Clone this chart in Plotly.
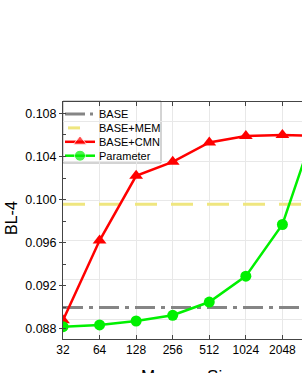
import plotly.graph_objects as go
import math

memory_sizes = [32, 64, 128, 256, 512, 1024, 2048, 4096]
tick_labels = ["32", "64", "128", "256", "512", "1024", "2048"]
base_vals = [0.0900] * 8
base_mem_vals = [0.09957] * 8
base_cmn_vals = [0.0888, 0.0962, 0.1022, 0.1035, 0.1053, 0.1059, 0.1060, 0.1059]
param_vals = [0.08821, 0.08837, 0.08874, 0.08927, 0.0905, 0.0929, 0.09769, 0.1077]
y_ticks = [0.088, 0.092, 0.096, 0.100, 0.104, 0.108]
y_tick_labels = ["0.088", "0.092", "0.096", "0.100", "0.104", "0.108"]
series_names = ["BASE", "BASE+MEM", "BASE+CMN", "Parameter"]

FONT = "Liberation Sans, Arial, sans-serif"
OFF = 0                      # page body margin removed by post_script
W, H = 302 - OFF, 373 - OFF
ML, MR, MT, MB = 63 - OFF, 0, 102 - OFF, 34
PW, PH = W - ML - MR, H - MT - MB

def px_x(px):                # screen pixel -> paper x
    return (px - OFF - ML) / PW

def px_y(py):                # screen pixel -> paper y
    return (H - MB - (py - OFF)) / PH

styles = {
    "BASE": dict(line=dict(color="#858585", width=3, dash="20px,6px,4px,6px"), mode="lines"),
    "BASE+MEM": dict(line=dict(color="#efe67f", width=3, dash="22px,14px"), mode="lines"),
    "BASE+CMN": dict(line=dict(color="#ff0000", width=2.5), mode="lines+markers",
                     marker=dict(symbol="triangle-up", size=12, color="#ff0000")),
    "Parameter": dict(line=dict(color="#00f000", width=2.5), mode="lines+markers",
                      marker=dict(symbol="circle", size=11, color="#00f000")),
}
values = {"BASE": base_vals, "BASE+MEM": base_mem_vals,
          "BASE+CMN": base_cmn_vals, "Parameter": param_vals}

fig = go.Figure()
for name in series_names:
    st = styles[name]
    fig.add_trace(go.Scatter(x=memory_sizes, y=values[name], name=name, showlegend=False,
                             mode=st["mode"], line=st["line"], marker=st.get("marker")))

# helper trace so the offset horizontal grid axis is drawn
fig.add_trace(go.Scatter(x=[None], y=[None], xaxis="x", yaxis="y2", showlegend=False, hoverinfo="skip"))

# compact legend (box, samples, texts) laid out in pixel units
LEG_X0, LEG_X1, LEG_Y0, LEG_Y1 = 63, 161, 101, 163
ROW0, ROW_STEP = 114, 13.9
SAMPLE_X0, SAMPLE_X1, TEXT_X = 65, 95, 96.5
shapes = [dict(type="rect", xref="paper", yref="paper", layer="between",
               x0=px_x(LEG_X0), x1=px_x(LEG_X1), y0=px_y(LEG_Y1), y1=px_y(LEG_Y0),
               fillcolor="white", line=dict(color="#a8a8a8", width=1))]
annotations = []
for i, name in enumerate(series_names):
    st = styles[name]
    ry = px_y(ROW0 + ROW_STEP * i)
    if name == "BASE+MEM":
        xs = [px_x(68), px_x(74), px_x(80)]
        line = dict(color=st["line"]["color"], width=3)
    elif name == "BASE":
        xs = [px_x(SAMPLE_X0), px_x(80), px_x(SAMPLE_X1)]
        line = dict(color=st["line"]["color"], width=3, dash="20px,5px,3px,10px")
    else:
        xs = [px_x(SAMPLE_X0), px_x(80), px_x(SAMPLE_X1)]
        line = st["line"]
    marker = None
    if "marker" in st:
        marker = dict(symbol=st["marker"]["symbol"], color=st["marker"]["color"],
                      size=[0, st["marker"]["size"], 0])
    fig.add_trace(go.Scatter(x=xs, y=[ry] * 3, xaxis="x2", yaxis="y3", mode=st["mode"],
                             line=line, marker=marker, showlegend=False, hoverinfo="skip",
                             cliponaxis=False))
    annotations.append(dict(text=name, xref="paper", yref="paper", x=px_x(TEXT_X), y=ry,
                            xanchor="left", yanchor="middle", showarrow=False,
                            font=dict(size=11, family=FONT, color="black")))

annotations += [
    dict(text="Memory Size", xref="paper", yref="paper", x=px_x(190), y=px_y(365),
         xanchor="center", yanchor="top", showarrow=False, font=dict(size=17, family=FONT)),
    dict(text="BL-4", xref="paper", yref="paper", x=px_x(11), y=px_y(218),
         xanchor="center", yanchor="middle", showarrow=False, textangle=-90,
         font=dict(size=16, family=FONT)),
]

lo = math.log10(32)
octave = math.log10(2)
fig.update_layout(
    width=W, height=H,
    margin=dict(l=ML, r=MR, t=MT, b=MB, autoexpand=False),
    paper_bgcolor="white", plot_bgcolor="white",
    font=dict(family=FONT, color="black"),
    showlegend=False,
    xaxis=dict(type="log", range=[lo, lo + (PW / 36.57) * octave], automargin=False,
               tickvals=memory_sizes[:7], ticktext=tick_labels,
               ticks="inside", ticklen=4, tickcolor="#444", tickwidth=1,
               showline=True, linecolor="#444", linewidth=1, mirror="ticks",
               showgrid=True, gridcolor="#e8e8e8", gridwidth=1,
               tickfont=dict(size=12, family=FONT), zeroline=False),
    yaxis=dict(range=[0.08707, 0.10905], tickvals=y_ticks, ticktext=y_tick_labels,
               automargin=False,
               ticks="outside", ticklen=3, tickcolor="#444",
               showline=True, linecolor="#444", linewidth=1, mirror=False,
               showgrid=False, zeroline=False,
               minor=dict(dtick=0.002, tick0=0.088, ticks="inside", ticklen=3,
                          tickcolor="#444", showgrid=False),
               tickfont=dict(size=12.5, family=FONT)),
    yaxis2=dict(overlaying="y", range=[0, 6], tickvals=[0.5, 1.5, 2.5, 3.5, 4.5, 5.5],
                showticklabels=False, ticks="", showline=False, zeroline=False,
                showgrid=True, gridcolor="#e8e8e8", gridwidth=1, side="left", automargin=False),
    xaxis2=dict(overlaying="x", range=[0, 1], visible=False, anchor="y3"),
    yaxis3=dict(overlaying="y", range=[0, 1], visible=False, anchor="x2"),
    shapes=shapes,
    annotations=annotations,
)
fig.write_html("out.html", config={"displayModeBar": False},
               post_script="document.body.style.margin='0px';document.body.style.overflow='hidden';")
